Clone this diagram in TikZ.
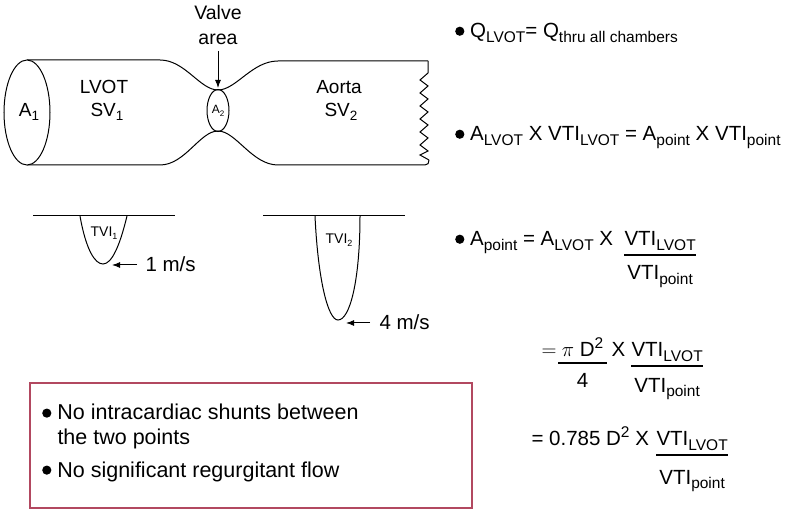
\documentclass[tikz,border=0pt]{standalone}
\usepackage{fontspec}
\setmainfont{Liberation Sans}
\usetikzlibrary{shapes.geometric,arrows.meta,calc}
\newcommand\sbs[1]{\raisebox{-0.45ex}{\fontsize{15.5}{15}\selectfont #1}}
\newcommand\sps[1]{\raisebox{0.75ex}{\fontsize{15.5}{15}\selectfont #1}}
\newcommand\bul{\raisebox{0.2ex}{\tikz\fill (0,0) circle (4.6pt);}}
\begin{document}
\begin{tikzpicture}[x=1pt,y=-1pt,line width=1pt,
  big/.style={font=\fontsize{19}{22}\selectfont,align=center,inner sep=0pt},
  eq/.style={font=\fontsize{20.5}{22}\selectfont,anchor=base west,inner sep=0pt},
  den/.style={font=\fontsize{20.5}{22}\selectfont,anchor=base,inner sep=0pt},
  bx/.style={font=\fontsize{21.5}{24}\selectfont,anchor=base west,inner sep=0pt,align=left},
  bar/.style={line width=1.2pt},
  arr/.style={-{Latex[length=8pt,width=6pt]}}]
\useasboundingbox (0,0) rectangle (785,529);
% tube
\draw (27,60) -- (160,60) .. controls (185,60) and (200,90) .. (218,90)
  .. controls (236,90) and (252,61) .. (278,61) -- (428,61);
\draw (27,165) -- (160,165) .. controls (185,165) and (200,131) .. (218,131)
  .. controls (236,131) and (252,165) .. (278,165) -- (425,165) .. controls (428,165) and (429,163) .. (429,160);
\draw (428,61) -- (428,73) -- (420,80) -- (428,86) -- (420,93) -- (428,99) -- (420,106) -- (428,112) -- (420,119) -- (428,125) -- (420,132) -- (428,138) -- (420,145) -- (428,151) -- (420,155) -- (429,160);
\node[draw,fill=white,ellipse,minimum width=46,minimum height=105,inner sep=0pt] (e1) at (27,112.5) {};
\node[draw,ellipse,minimum width=22,minimum height=42,inner sep=0pt] (e2) at (218,110.5) {};
\node[big] (a1) at (29,112) {A\raisebox{-0.45ex}{\fontsize{13.5}{13}\selectfont 1}};
\node[font=\fontsize{12}{12}\selectfont,inner sep=0pt] (a2) at (218,111) {A\raisebox{-0.4ex}{\fontsize{8}{8}\selectfont 2}};
\node[big] (lv) at (104,87) {LVOT};
\node[big] (sv1) at (107,112) {SV\raisebox{-0.45ex}{\fontsize{13.5}{13}\selectfont 1}};
\node[big] (ao) at (339,87) {Aorta};
\node[big] (sv2) at (341,112) {SV\raisebox{-0.45ex}{\fontsize{13.5}{13}\selectfont 2}};
\node[big,font=\fontsize{19.5}{25}\selectfont] (va) at (218,25) {Valve\\area};
\coordinate (vt) at (218,51);
\draw[arr] (vt) -- (e2.north |- 0,88);
% TVI
\draw (33,216) -- (175,216);
\draw (80,216) .. controls (86,250) and (95,264) .. (103,264) .. controls (112,264) and (120,245) .. (127,216);
\node[font=\fontsize{14}{14}\selectfont,inner sep=0pt] (t1) at (104,233) {TVI\raisebox{-0.4ex}{\fontsize{9}{9}\selectfont 1}};
\node[eq] (v1) at (145,272) {1 m/s};
\draw[arr] (137,265) coordinate (v1s) -- (112,265);
\draw (263,216) -- (405,216);
\draw (315,216) .. controls (318,280) and (328,320) .. (338,320) .. controls (350,320) and (360,280) .. (360,216);
\node[font=\fontsize{14}{14}\selectfont,inner sep=0pt] (t2) at (339,240) {TVI\raisebox{-0.4ex}{\fontsize{9}{9}\selectfont 2}};
\node[eq] (v2) at (379,330) {4 m/s};
\draw[arr] (370,323) coordinate (v2s) -- (346,323);
% box
\draw[draw={rgb,255:red,178;green,72;blue,96},line width=1.5pt] (30,383) rectangle (472,508);
\node[bx] (b1) at (42,420) {\bul\ No intracardiac shunts between};
\node[bx] (b1b) at (57,444) {the two points};
\node[bx] (b2) at (42,477) {\bul\ No significant regurgitant flow};
% equations
\node[eq] (q) at (455,38) {\bul\ Q\sbs{LVOT}= Q\sbs{thru all chambers}};
\node[eq] (e1t) at (455,141) {\bul\ A\sbs{LVOT} X VTI\sbs{LVOT} = A\sbs{point} X VTI\sbs{point}};
\node[eq] (p1) at (455,246) {\bul\ A\sbs{point} = A\sbs{LVOT} X};
\node[eq] (p1n) at (624,246) {VTI\sbs{LVOT}};
\draw[bar] ($(p1n.base west)+(0,9)$) -- ($(p1n.base east)+(0,9)$);
\node[den] (p1d) at (p1n.base |- 0,280) {VTI\sbs{point}};
\node[eq] (p2) at (541,357) {$=$};
\node[eq] (p2f) at (558,357) {\,$\pi$ D\sps{2}\,};
\draw[bar] ($(p2f.base west)+(0,6)$) -- ($(p2f.base east)+(0,6)$);
\node[den] (p2d4) at (p2f.base |- 0,388) {4};
\node[eq] (p2x) at (611,357) {X};
\node[eq] (p2n) at (631,357) {VTI\sbs{LVOT}};
\draw[bar] ($(p2n.base west)+(0,9)$) -- ($(p2n.base east)+(0,9)$);
\node[den] (p2d) at (p2n.base |- 0,392) {VTI\sbs{point}};
\node[eq] (p3) at (531,446) {= 0.785 D\sps{2} X};
\node[eq] (p3n) at (656,446) {VTI\sbs{LVOT}};
\draw[bar] ($(p3n.base west)+(0,9)$) -- ($(p3n.base east)+(0,9)$);
\node[den] (p3d) at (p3n.base |- 0,484) {VTI\sbs{point}};
\end{tikzpicture}
\end{document}
